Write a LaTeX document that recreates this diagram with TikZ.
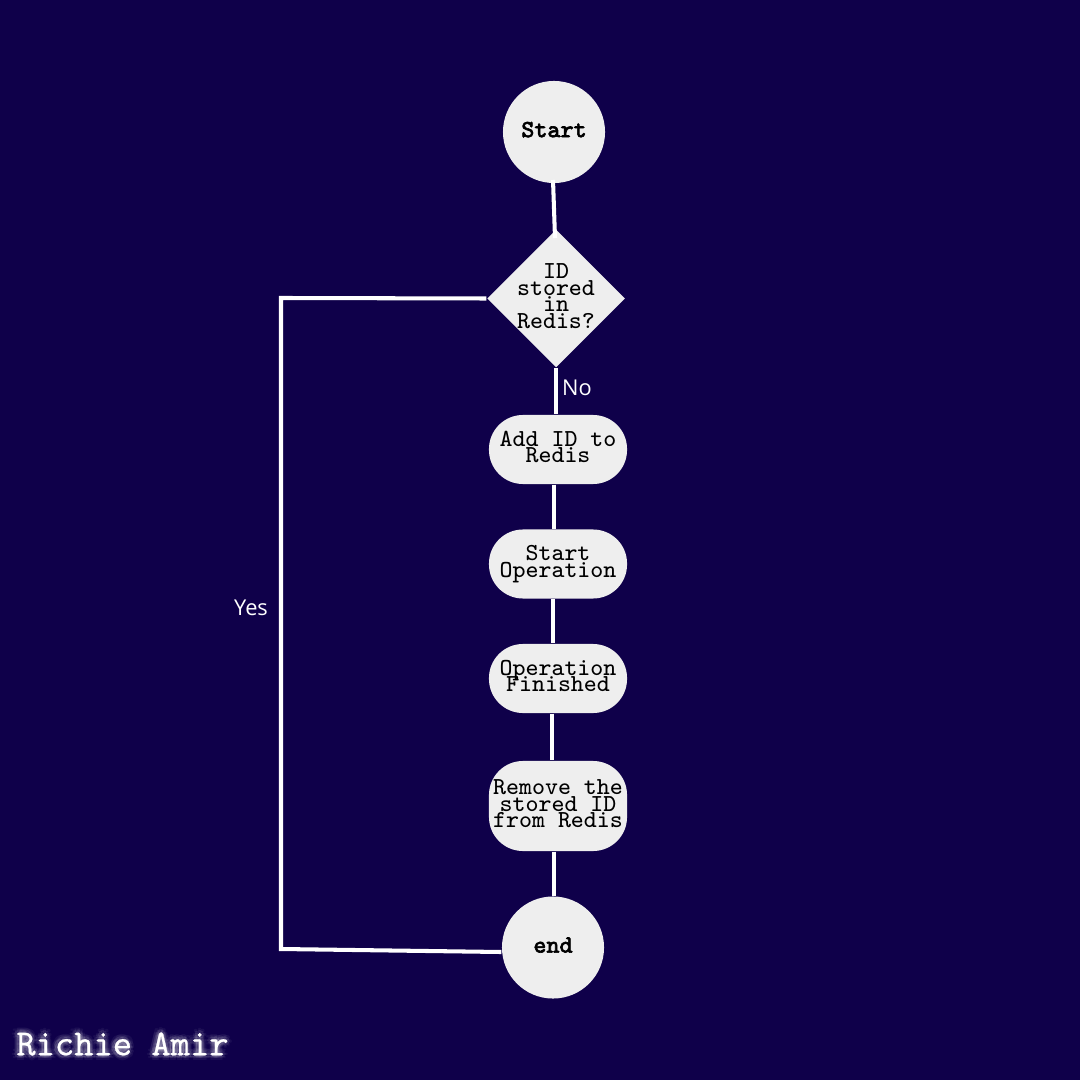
\documentclass[tikz,border=0pt]{standalone}
\usepackage{fontspec}
\usetikzlibrary{shapes.geometric,calc}
\newfontfamily\boxfont{Latin Modern Mono}
\newfontfamily\capfont[FakeBold=2.5]{Latin Modern Mono}
\newfontfamily\signfont[FakeBold=.6]{Latin Modern Mono}
\newfontfamily\labfont{Open Sans}
\definecolor{pagebg}{HTML}{0F004A}
\definecolor{shapefill}{HTML}{EEEEEE}
\normallineskiplimit=-100pt
\lineskiplimit=-100pt
\tikzset{
    term/.style={circle,fill=shapefill,minimum size=1.02cm,inner sep=0pt,text=black,text depth=1.4pt,
        font=\capfont\fontsize{7}{8}\selectfont},
    box/.style={rectangle,fill=shapefill,minimum width=1.38cm,minimum height=.69cm,inner sep=0pt,
        rounded corners=.34cm,text=black,align=center,text depth=1.4pt,
        font=\boxfont\fontsize{6.95}{4.72}\selectfont},
    decide/.style={diamond,fill=shapefill,minimum size=1.38cm,inner sep=-5pt,text=black,align=center,
        text depth=1.4pt,
        font=\boxfont\fontsize{6.95}{4.72}\selectfont},
    wire/.style={draw=white,line width=1.15pt},
    lab/.style={text=white,font=\labfont\fontsize{6.2}{7}\selectfont},
    sign/.style={text=white,text opacity=#1}
}
\begin{document}
\begin{tikzpicture}[x=.01cm,y=-.01cm]
    \fill[pagebg] (0,0) rectangle (1080,1080);
    \useasboundingbox (0,0) rectangle (1080,1080);
    \coordinate (topin) at (555,238);
    \coordinate (loopa) at (281,298);
    \coordinate (loopb) at (281,949);
    \coordinate (endin) at (510,952);
    \coordinate (starta) at (553,180);
    \node[term] at (554,132) (start) {Start};
    \node[decide] at (556,298.5) (stored) {ID\\stored\\in\\Redis?};
    \node[box] at (558,449.5) (addid) {Add ID to\\Redis};
    \node[box] at (558,564) (startop) {Start\\Operation};
    \node[box] at (558,678.5) (opdone) {Operation\\Finished};
    \node[box,minimum height=.9cm] at (558,806) (remove) {Remove the\\stored ID\\from Redis};
    \node[term] at (553,947.5) (end) {end};
    \draw[wire] (stored.west)--(loopa)--(loopb)--(end.west |- endin);
    \draw[wire] (starta)--(topin);
    \draw[wire] (stored.south)--(stored.south |- addid.north)
    (addid.south -| 554,0)--(startop.north -| 554,0)
    (startop.south -| 553,0)--(opdone.north -| 553,0)
    (opdone.south -| 552,0)--(remove.north -| 552,0)
    (remove.south -| 554,0)--(end.north -| 554,0)
    ;
    \node[lab] at (577,388) (no) {No};
    \node[lab] at (251,608) (yes) {Yes};
    \foreach \r/\o in {5/.05,3/.09}
        \foreach \a in {0,45,...,315}
            \node[sign=\o,font=\boxfont\fontsize{10.45}{12}\selectfont]
                at ($(122.5,1044)+(\a:\r)$) (glow\a) {Richie Amir};
    \node[sign=1,font=\signfont\fontsize{10.45}{12}\selectfont] at (122.5,1044) (signed) {Richie Amir};
\end{tikzpicture}
\end{document}
